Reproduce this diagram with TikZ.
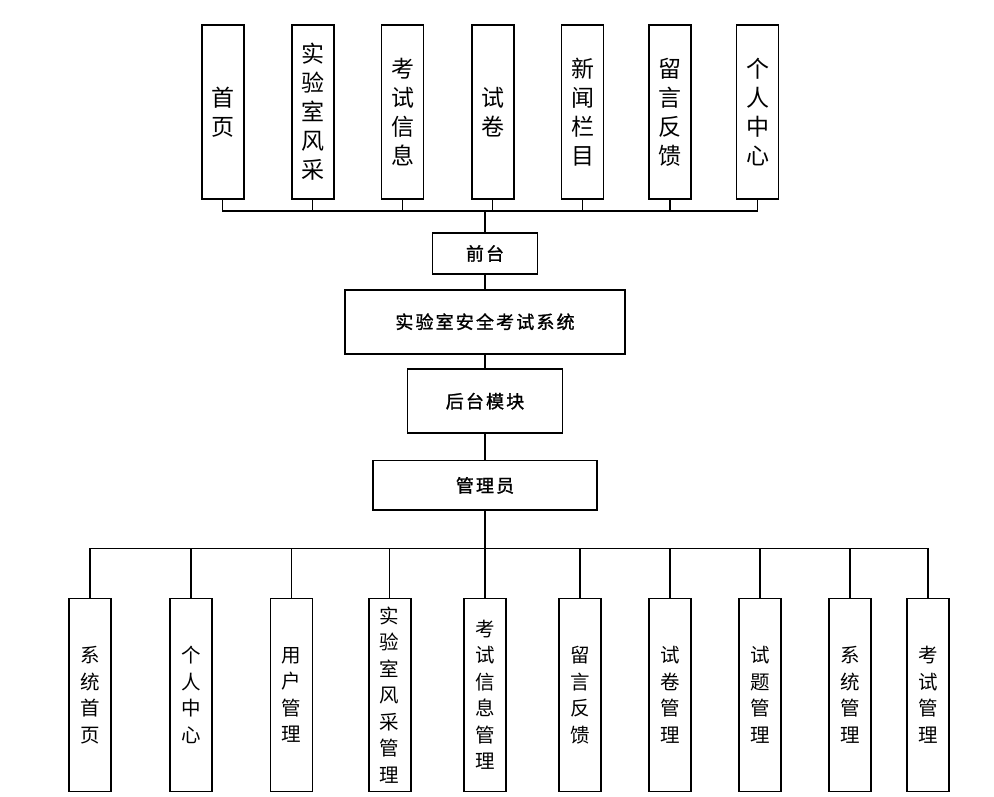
\documentclass[tikz,border=0pt]{standalone}
\usepackage{fontspec}
\setmainfont{Noto Sans CJK SC}
\newfontfamily\midfont{Noto Sans CJK SC}[FakeBold=1.3,LetterSpace=12]
\begin{document}
\begin{tikzpicture}[x=1pt,y=-1pt,
  box/.style={draw=black,line width=1.6pt,fill=white,inner sep=0pt,align=center},
  topbox/.style={box,minimum width=42pt,minimum height=174pt,font=\fontsize{23}{29}\selectfont},
  botbox/.style={box,minimum width=42pt,minimum height=193pt,font=\fontsize{19.5}{26.5}\selectfont},
  midbox/.style={box,font=\midfont\fontsize{18}{22}\selectfont},
  link/.style={draw=black,line width=1.5pt}]
\useasboundingbox (0,0) rectangle (994,797);
% top row
\node[topbox] (t1) at (222.7,112) {首\\页};
\node[topbox] (t2) at (312.7,112) {实\\验\\室\\风\\采};
\node[topbox] (t3) at (402.5,112) {考\\试\\信\\息};
\node[topbox] (t4) at (492.7,112) {试\\卷};
\node[topbox] (t5) at (582.5,112) {新\\闻\\栏\\目};
\node[topbox] (t6) at (670,112) {留\\言\\反\\馈};
\node[topbox] (t7) at (757.5,112) {个\\人\\中\\心};
% middle column
\node[midbox,minimum width=105pt,minimum height=40.5pt] (qt) at (485,253.5) {前台};
\node[midbox,minimum width=280pt,minimum height=64pt] (sys) at (485,321.7) {实验室安全考试系统};
\node[midbox,minimum width=155pt,minimum height=64pt] (ht) at (485,401.2) {后台模块};
\node[midbox,minimum width=224pt,minimum height=49.5pt] (gly) at (485,485.4) {管理员};
% bottom row
\node[botbox] (b1) at (90,695) {系\\统\\首\\页};
\node[botbox] (b2) at (191,695) {个\\人\\中\\心};
\node[botbox] (b3) at (291.3,695) {用\\户\\管\\理};
\node[botbox] (b4) at (389.7,695) {实\\验\\室\\风\\采\\管\\理};
\node[botbox] (b5) at (485,695) {考\\试\\信\\息\\管\\理};
\node[botbox] (b6) at (580,695) {留\\言\\反\\馈};
\node[botbox] (b7) at (670,695) {试\\卷\\管\\理};
\node[botbox] (b8) at (760,695) {试\\题\\管\\理};
\node[botbox] (b9) at (850,695) {系\\统\\管\\理};
\node[botbox] (b10) at (928,695) {考\\试\\管\\理};
% connectors
\coordinate (hbar) at (485,211);
\coordinate (bbar) at (485,548.3);
\foreach \n in {t1,t2,t3,t4,t5,t6,t7} \path[link] (\n.south) |- (hbar);
\path[link] (hbar) -- (qt.north);
\path[link] (qt.south) -- (sys.north);
\path[link] (sys.south) -- (ht.north);
\path[link] (ht.south) -- (gly.north);
\path[link] (gly.south) -- (bbar);
\foreach \n in {b1,b2,b3,b4,b5,b6,b7,b8,b9,b10} \path[link] (\n.north) |- (bbar);
\end{tikzpicture}
\end{document}
